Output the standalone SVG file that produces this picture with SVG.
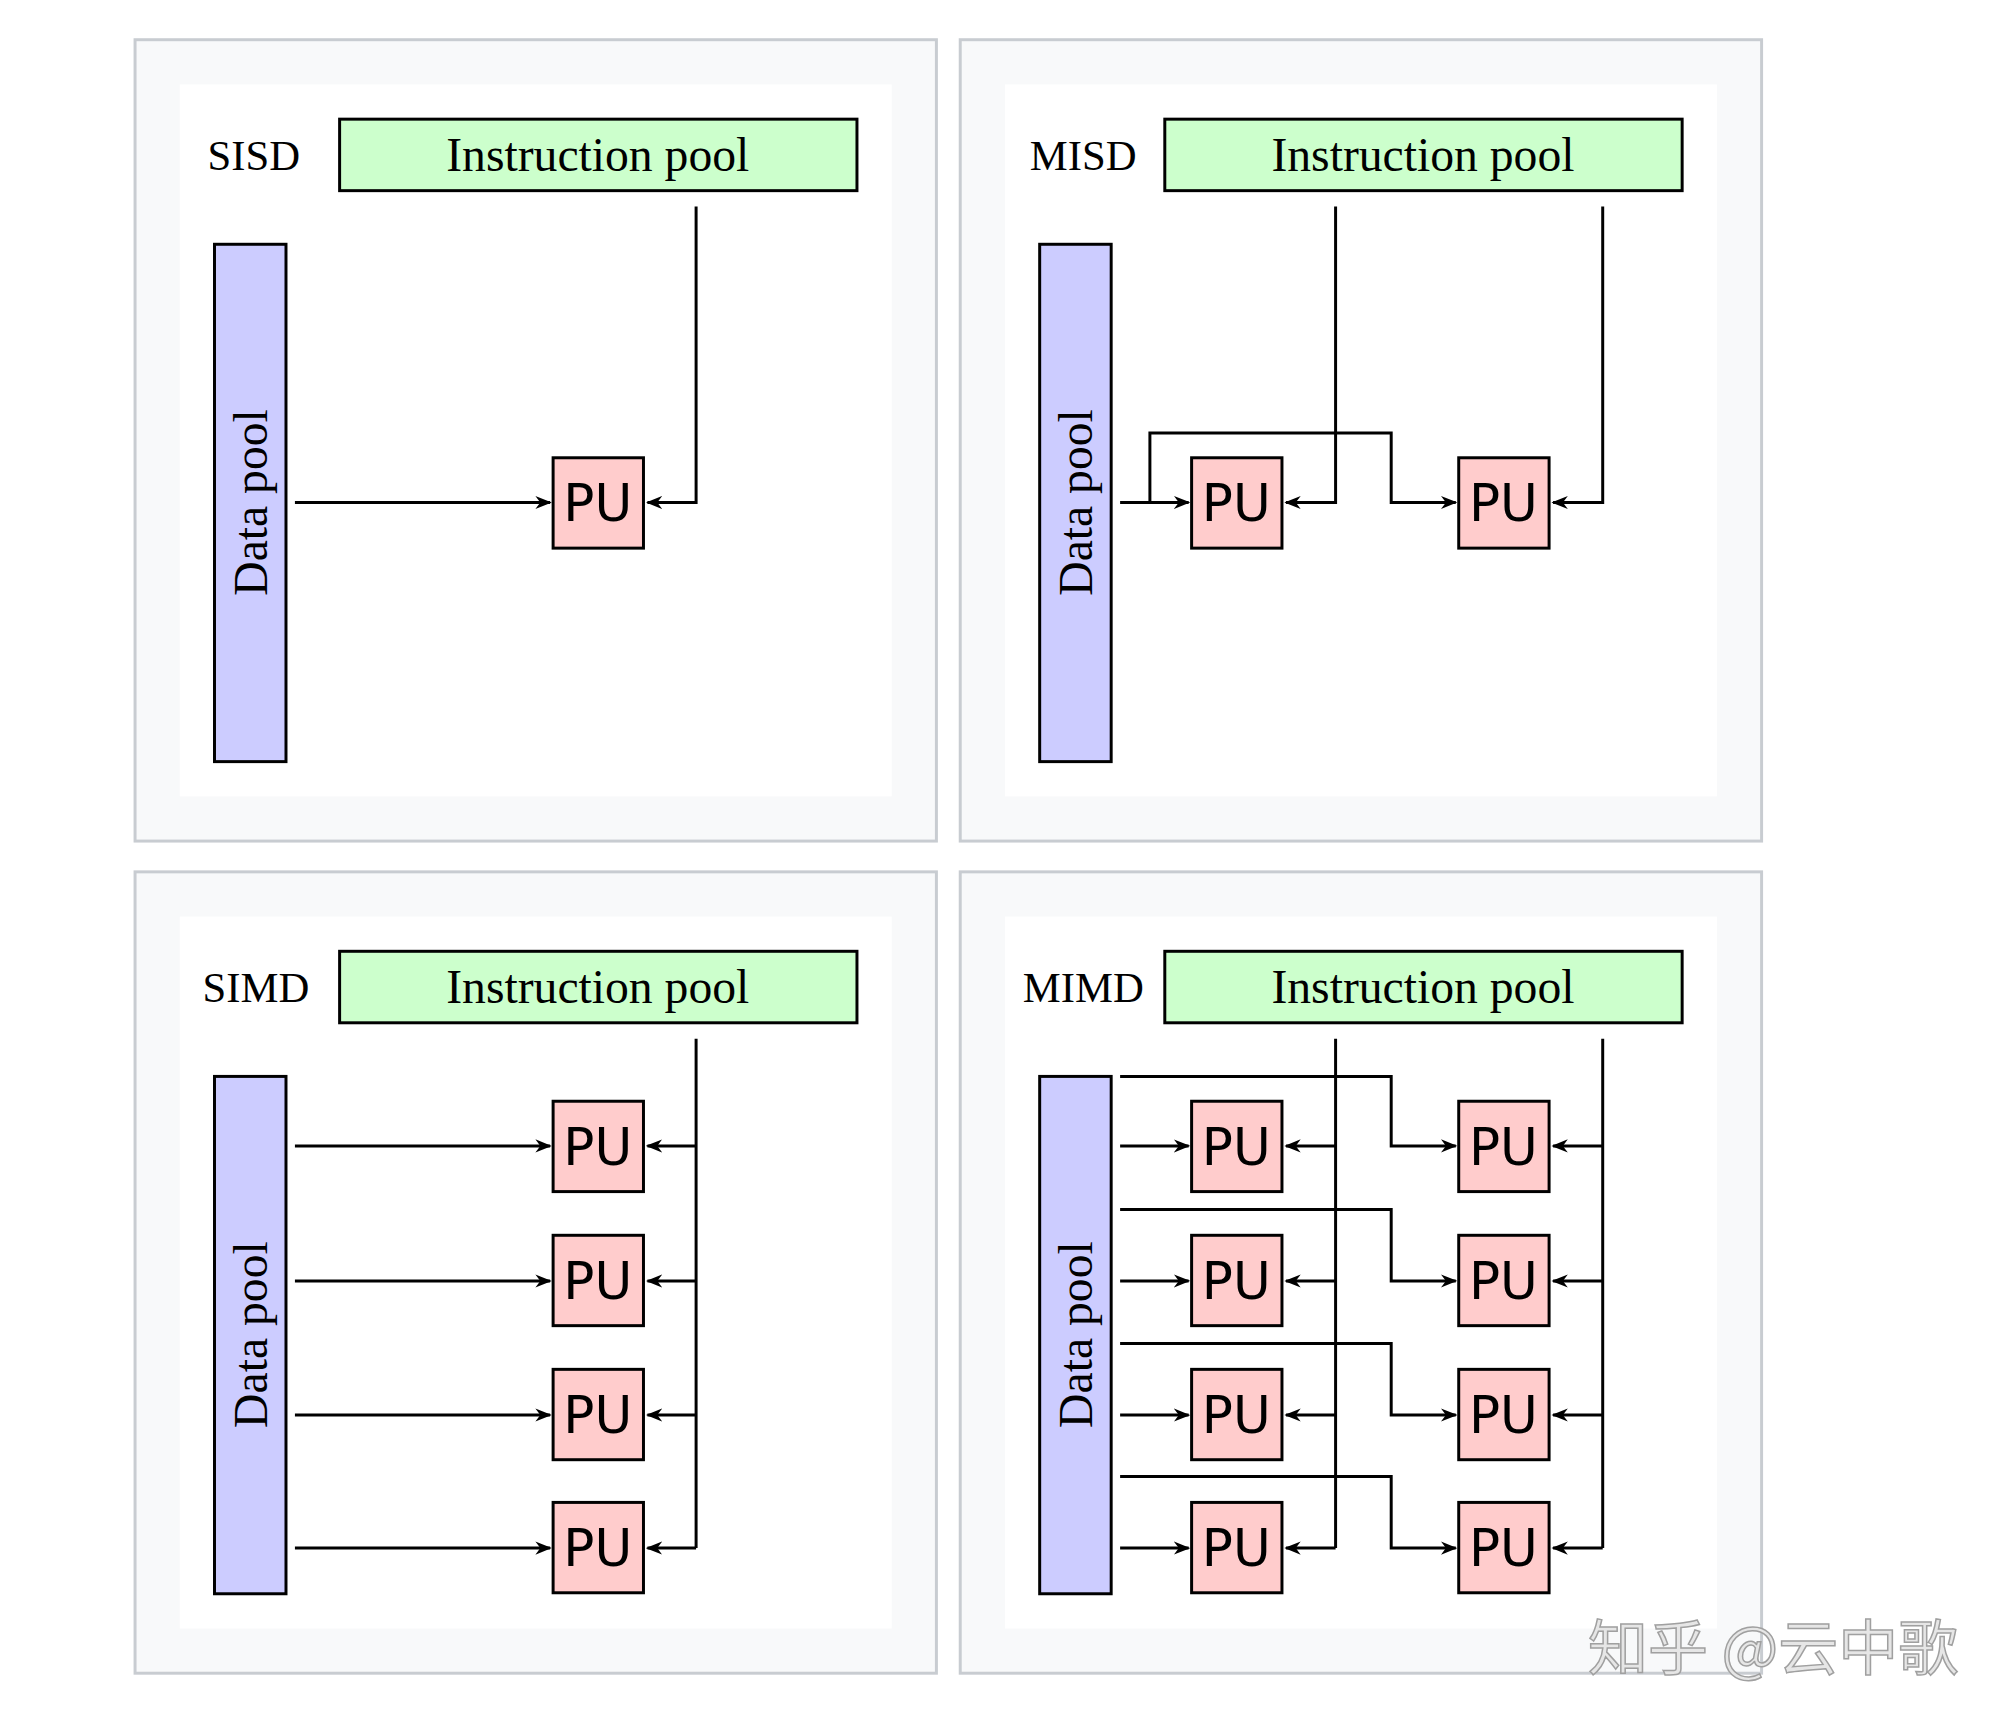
<svg xmlns="http://www.w3.org/2000/svg" width="2004" height="1722" viewBox="0 0 2004 1722">
<style>
.panel{fill:#f8f9fa;stroke:#c8ccd1;stroke-width:3}
.inner{fill:#fff}
.ip{fill:#ccffcc;stroke:#000;stroke-width:3}
.dp{fill:#ccccff;stroke:#000;stroke-width:3}
.pu{fill:#ffcccc;stroke:#000;stroke-width:3}
.lbl{font-family:"Liberation Serif",serif;font-size:43px;fill:#000}
.big{font-size:48px}
.put{font-family:"DejaVu Sans",sans-serif;font-size:52px;fill:#000;text-anchor:middle}
.c{fill:none;stroke:#000;stroke-width:3}
.a{marker-end:url(#ah)}
</style>
<defs>
<marker id="ah" viewBox="0 0 10 10" refX="9" refY="5" markerWidth="5.5" markerHeight="5.5" orient="auto" markerUnits="strokeWidth"><path d="M0,1 L10,5 L0,9 L3,5 Z" fill="#000"/></marker>
</defs>
<rect width="2004" height="1722" fill="#fff"/>
<g transform="translate(1,0) scale(0.993)">
<g id="panels">
<rect class="panel" x="135" y="40" width="807" height="807"/><rect class="inner" x="180" y="85" width="717" height="717"/>
<rect class="panel" x="966" y="40" width="807" height="807"/><rect class="inner" x="1011" y="85" width="717" height="717"/>
<rect class="panel" x="135" y="878" width="807" height="807"/><rect class="inner" x="180" y="923" width="717" height="717"/>
<rect class="panel" x="966" y="878" width="807" height="807"/><rect class="inner" x="1011" y="923" width="717" height="717"/>
</g>
<g id="sisd">
<text class="lbl" x="208" y="171">SISD</text>
<g id="sisd-ip"><rect class="ip" x="341" y="120" width="521" height="72"/><text class="lbl big" x="601" y="172" text-anchor="middle">Instruction pool</text></g>
<g id="sisd-dp"><rect class="dp" x="215" y="246" width="72" height="521"/><text class="lbl big" transform="translate(268,506) rotate(-90)" text-anchor="middle">Data pool</text></g>
<g id="sisd-pu"><rect class="pu" x="556" y="461" width="91" height="91"/><text class="put" x="601" y="525">PU</text></g>
<g id="sisd-conn"><path class="c a" d="M296,506 H553"/><path class="c a" d="M700,208 V506 H651"/></g>
</g>
<g id="misd">
<text class="lbl" x="1036" y="171">MISD</text>
<g id="misd-ip"><rect class="ip" x="1172" y="120" width="521" height="72"/><text class="lbl big" x="1432" y="172" text-anchor="middle">Instruction pool</text></g>
<g id="misd-dp"><rect class="dp" x="1046" y="246" width="72" height="521"/><text class="lbl big" transform="translate(1099,506) rotate(-90)" text-anchor="middle">Data pool</text></g>
<g id="misd-pu1"><rect class="pu" x="1199" y="461" width="91" height="91"/><text class="put" x="1244" y="525">PU</text></g>
<g id="misd-pu2"><rect class="pu" x="1468" y="461" width="91" height="91"/><text class="put" x="1513" y="525">PU</text></g>
<g id="misd-conn"><path class="c a" d="M1127,506 H1196"/><path class="c a" d="M1157,506 V436 H1400 V506 H1465"/><path class="c a" d="M1344,208 V506 H1294"/><path class="c a" d="M1613,208 V506 H1563"/></g>
</g>
<g id="simd">
<text class="lbl" x="203" y="1009">SIMD</text>
<g id="simd-ip"><rect class="ip" x="341" y="958" width="521" height="72"/><text class="lbl big" x="601" y="1010" text-anchor="middle">Instruction pool</text></g>
<g id="simd-dp"><rect class="dp" x="215" y="1084" width="72" height="521"/><text class="lbl big" transform="translate(268,1344) rotate(-90)" text-anchor="middle">Data pool</text></g>
<g id="simd-pu1"><rect class="pu" x="556" y="1109" width="91" height="91"/><text class="put" x="601" y="1173">PU</text></g>
<g id="simd-pu2"><rect class="pu" x="556" y="1244" width="91" height="91"/><text class="put" x="601" y="1308">PU</text></g>
<g id="simd-pu3"><rect class="pu" x="556" y="1379" width="91" height="91"/><text class="put" x="601" y="1443">PU</text></g>
<g id="simd-pu4"><rect class="pu" x="556" y="1513" width="91" height="91"/><text class="put" x="601" y="1577">PU</text></g>
<g id="simd-conn">
<path class="c a" d="M296,1154 H553"/><path class="c a" d="M296,1290 H553"/><path class="c a" d="M296,1425 H553"/><path class="c a" d="M296,1559 H553"/>
<path class="c" d="M700,1046 V1559"/>
<path class="c a" d="M700,1154 H651"/><path class="c a" d="M700,1290 H651"/><path class="c a" d="M700,1425 H651"/><path class="c a" d="M700,1559 H651"/>
</g>
</g>
<g id="mimd">
<text class="lbl" x="1029" y="1009">MIMD</text>
<g id="mimd-ip"><rect class="ip" x="1172" y="958" width="521" height="72"/><text class="lbl big" x="1432" y="1010" text-anchor="middle">Instruction pool</text></g>
<g id="mimd-dp"><rect class="dp" x="1046" y="1084" width="72" height="521"/><text class="lbl big" transform="translate(1099,1344) rotate(-90)" text-anchor="middle">Data pool</text></g>
<g id="mimd-pu1"><rect class="pu" x="1199" y="1109" width="91" height="91"/><text class="put" x="1244" y="1173">PU</text></g>
<g id="mimd-pu2"><rect class="pu" x="1199" y="1244" width="91" height="91"/><text class="put" x="1244" y="1308">PU</text></g>
<g id="mimd-pu3"><rect class="pu" x="1199" y="1379" width="91" height="91"/><text class="put" x="1244" y="1443">PU</text></g>
<g id="mimd-pu4"><rect class="pu" x="1199" y="1513" width="91" height="91"/><text class="put" x="1244" y="1577">PU</text></g>
<g id="mimd-pu5"><rect class="pu" x="1468" y="1109" width="91" height="91"/><text class="put" x="1513" y="1173">PU</text></g>
<g id="mimd-pu6"><rect class="pu" x="1468" y="1244" width="91" height="91"/><text class="put" x="1513" y="1308">PU</text></g>
<g id="mimd-pu7"><rect class="pu" x="1468" y="1379" width="91" height="91"/><text class="put" x="1513" y="1443">PU</text></g>
<g id="mimd-pu8"><rect class="pu" x="1468" y="1513" width="91" height="91"/><text class="put" x="1513" y="1577">PU</text></g>
<g id="mimd-conn">
<path class="c a" d="M1127,1154 H1196"/><path class="c a" d="M1127,1290 H1196"/><path class="c a" d="M1127,1425 H1196"/><path class="c a" d="M1127,1559 H1196"/>
<path class="c a" d="M1127,1084 H1400 V1154 H1465"/><path class="c a" d="M1127,1218 H1400 V1290 H1465"/><path class="c a" d="M1127,1353 H1400 V1425 H1465"/><path class="c a" d="M1127,1487 H1400 V1559 H1465"/>
<path class="c" d="M1344,1046 V1559"/><path class="c" d="M1613,1046 V1559"/>
<path class="c a" d="M1344,1154 H1294"/><path class="c a" d="M1344,1290 H1294"/><path class="c a" d="M1344,1425 H1294"/><path class="c a" d="M1344,1559 H1294"/>
<path class="c a" d="M1613,1154 H1563"/><path class="c a" d="M1613,1290 H1563"/><path class="c a" d="M1613,1425 H1563"/><path class="c a" d="M1613,1559 H1563"/>
</g>
</g>
</g>
<text x="1588" y="1670" font-family="'Noto Sans CJK SC',sans-serif" font-size="60" fill="#e6e6e6" stroke="#a0a0a0" stroke-width="1.5">知乎 @云中歌</text>
</svg>
